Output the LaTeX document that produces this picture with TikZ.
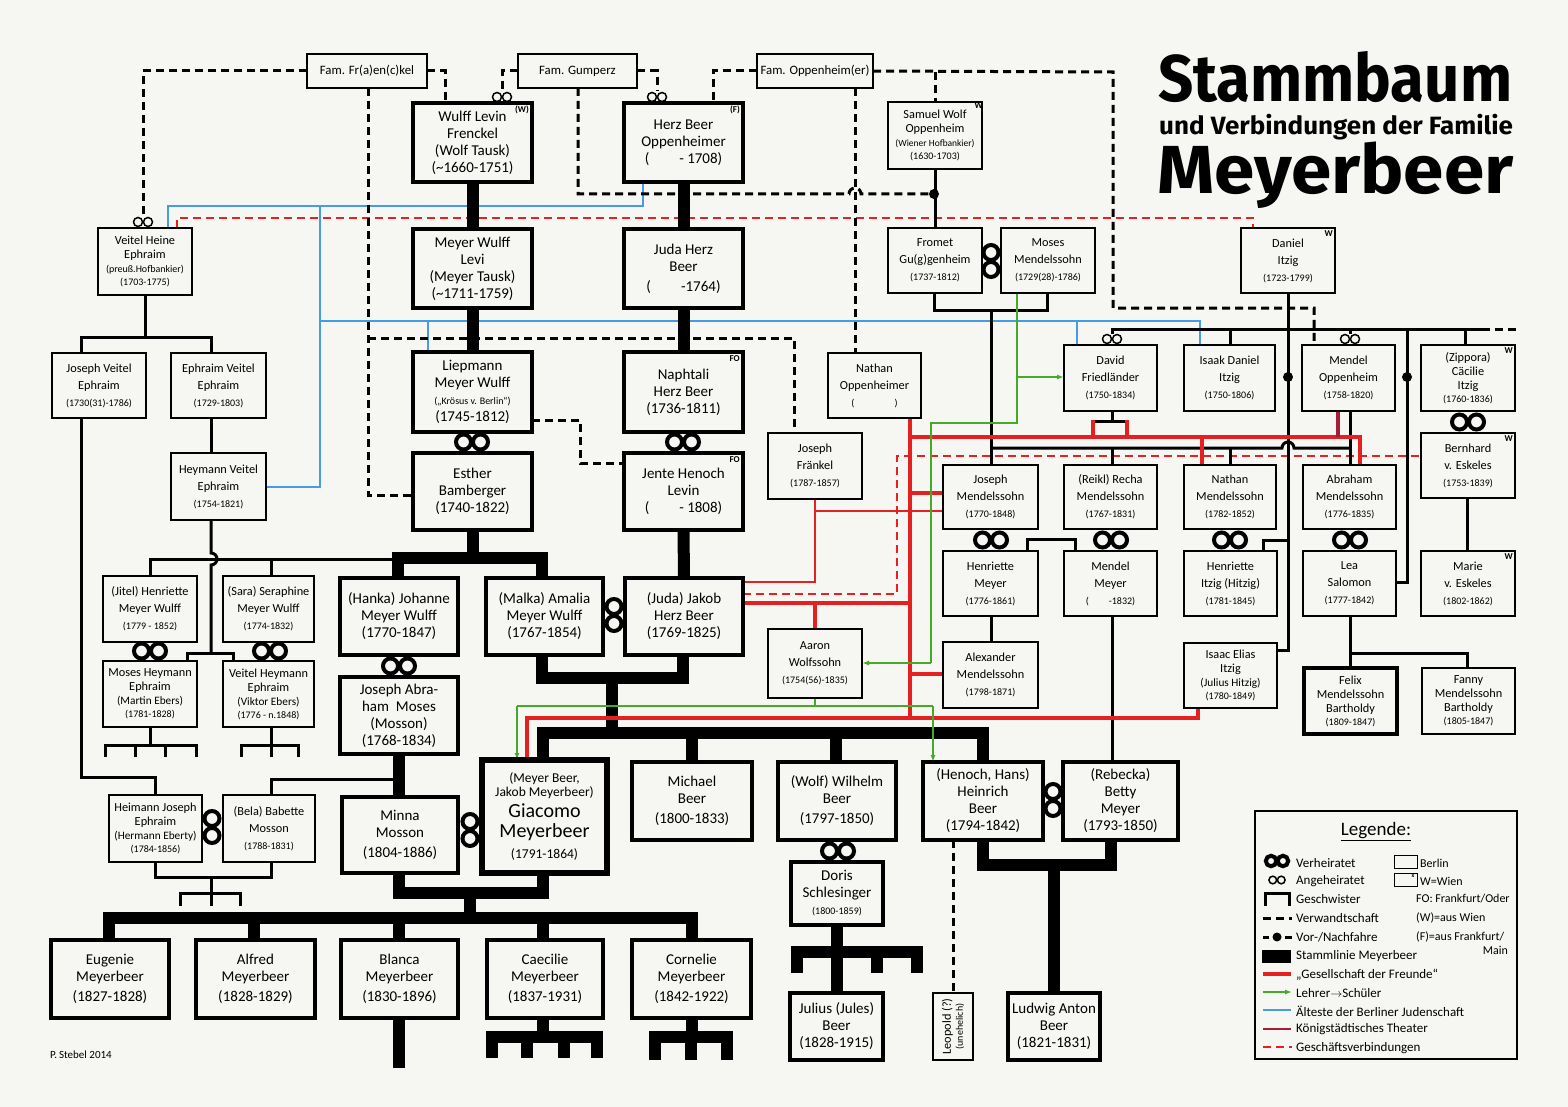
\documentclass[tikz,border=0pt]{standalone}
\usepackage{fontspec}
\usepackage{graphicx}
\setmainfont{Carlito}
\newfontfamily\titlefont{Fira Sans}
\usetikzlibrary{arrows.meta}
\pgfdeclarelayer{bg}
\pgfsetlayers{bg,main}
\definecolor{paper}{RGB}{246,246,243}
\definecolor{gfred}{RGB}{228,32,32}
\definecolor{lgreen}{RGB}{70,170,40}
\definecolor{ablue}{RGB}{70,155,230}
\definecolor{ktmaroon}{RGB}{165,30,55}
\newcommand\fA{\fontsize{15}{17}\selectfont}
\newcommand\fB{\fontsize{12.3}{17}\selectfont}
\newcommand\fC{\fontsize{10}{12}\selectfont}
\newcommand\fD{\fontsize{11.3}{14}\selectfont}
\newcommand\fG{\fontsize{20}{20}\selectfont}
\newcommand\fM{\fontsize{9}{9}\selectfont\bfseries}
\newcommand\mkbox[7]{\node[#2, minimum width={(#5-#3)*1pt}, minimum height={(#6-#4)*1pt}] (#1) at ({(#3+#5)/2},{(#4+#6)/2}) {#7};}
\tikzset{
 pbase/.style={draw, fill=paper, align=center, inner sep=1pt, outer sep=0pt},
 thick box/.style={pbase, line width=4pt, font=\fA},
 thin box/.style={pbase, line width=1.4pt, font=\fB},
 fam box/.style={pbase, line width=1.4pt, font=\fontsize{12.8}{15}\selectfont},
 giant box/.style={pbase, line width=6pt, font=\fontsize{13.5}{15}\selectfont},
 thick small/.style={pbase, line width=3.5pt, font=\fB},
 stamm/.style={line width=12pt, line join=miter},
 thinl/.style={line width=3pt, line join=miter},
 dashl/.style={line width=3pt, dash pattern=on 8pt off 5pt},
 gfl/.style={line width=4.5pt, gfred, line join=miter},
 gfthin/.style={line width=2pt, gfred},
 gdash/.style={line width=1.6pt, gfred, dash pattern=on 8pt off 5pt},
 bluel/.style={line width=2pt, ablue},
 greenl/.style={line width=1.6pt, lgreen},
 garrow/.style={greenl, -{Latex[length=7pt,width=5pt]}},
 cornermark/.style={font=\fM, inner sep=1pt, anchor=north east},
 legtext/.style={anchor=west, inner sep=0pt, font=\fontsize{13}{14}\selectfont},
 legright/.style={anchor=west, inner sep=0pt, font=\fontsize{12}{13}\selectfont},
 infh/.pic={\draw[line width=4pt] (-8.5,0) circle (7.5) (8.5,0) circle (7.5);},
 infv/.pic={\draw[line width=4pt] (0,-8.5) circle (7.5) (0,8.5) circle (7.5);},
 infs/.pic={\draw[line width=1.5pt] (-5,0) circle (4.5) (5,0) circle (4.5);},
}
\begin{document}
\begin{tikzpicture}[x=1pt,y=-1pt]
\useasboundingbox (0,0) rectangle (1568,1107);

% ---------- title ----------
\node[anchor=base west, inner sep=0, font=\titlefont\bfseries\fontsize{66}{66}\selectfont] (t1) at (1158,102) {\scalebox{0.935}[1]{Stammbaum}};
\node[anchor=base west, inner sep=0, font=\titlefont\bfseries\fontsize{25}{25}\selectfont] (t2) at (1159,135) {\scalebox{1.04}[1]{und Verbindungen der Familie}};
\node[anchor=base west, inner sep=0, font=\titlefont\bfseries\fontsize{68}{68}\selectfont] (t3) at (1157,194) {\scalebox{1.07}[1]{Meyerbeer}};

% ---------- families ----------
\mkbox{fam1}{fam box}{307}{54}{427}{88}{Fam. Fr(a)en(c)kel}
\mkbox{fam2}{fam box}{518}{54}{637}{88}{Fam. Gumperz}
\mkbox{fam3}{fam box}{757}{54}{873}{88}{Fam. Oppenheim(er)}

% ---------- Meyerbeer line ----------
\mkbox{wl}{thick box}{413}{103}{532}{182}{Wulff Levin\\Frenckel\\(Wolf Tausk)\\(\textasciitilde1660-1751)}
\mkbox{hb}{thick box}{624}{103}{743}{182}{Herz Beer\\Oppenheimer\\(\hspace{2em}- 1708)}
\mkbox{mwl}{thick box}{413}{229}{532}{308}{Meyer Wulff\\Levi\\(Meyer Tausk)\\(\textasciitilde1711-1759)}
\mkbox{jhb}{thick box}{624}{229}{743}{308}{Juda Herz\\Beer\\[3pt](\hspace{2em}-1764)}
\mkbox{lmw}{thick box}{413}{352}{532}{432}{Liepmann\\Meyer Wulff\\{\fC(„Krösus v. Berlin“)}\\(1745-1812)}
\mkbox{nhb}{thick box}{624}{352}{743}{432}{Naphtali\\Herz Beer\\(1736-1811)}
\mkbox{eb}{thick box}{413}{453}{532}{530}{Esther\\Bamberger\\(1740-1822)}
\mkbox{jhl}{thick box}{624}{453}{743}{530}{Jente Henoch\\Levin\\(\hspace{2em}- 1808)}
\mkbox{hj}{thick box}{340}{578}{458}{655}{(Hanka) Johanne\\Meyer Wulff\\(1770-1847)}
\mkbox{am}{thick box}{486}{578}{603}{655}{(Malka) Amalia\\Meyer Wulff\\(1767-1854)}
\mkbox{jj}{thick box}{625}{578}{743}{655}{(Juda) Jakob\\Herz Beer\\(1769-1825)}
\mkbox{jam}{thick box}{340}{677}{458}{754}{Joseph Abra-\\ham\ \ Moses\\(Mosson)\\(1768-1834)}
\mkbox{mm}{thick box}{342}{797}{458}{873}{Minna\\Mosson\\[3pt](1804-1886)}
\mkbox{gm}{giant box}{482}{760}{607}{873}{(Meyer Beer,\\[-1pt]Jakob Meyerbeer)\\[4pt]{\fG Giacomo}\\[5pt]{\fG Meyerbeer}\\[6pt](1791-1864)}
\mkbox{mb}{thick box}{632}{762}{752}{840}{Michael\\Beer\\[3pt](1800-1833)}
\mkbox{wb}{thick box}{778}{762}{896}{840}{(Wolf) Wilhelm\\Beer\\[3pt](1797-1850)}
\mkbox{ds}{thick box}{791}{862}{883}{925}{Doris\\Schlesinger\\{\fC(1800-1859)}}
\mkbox{jb}{thick box}{790}{993}{883}{1060}{Julius (Jules)\\Beer\\(1828-1915)}
\mkbox{hbr}{thick box}{923}{762}{1043}{840}{(Henoch, Hans)\\Heinrich\\Beer\\(1794-1842)}
\mkbox{bm}{thick box}{1063}{762}{1178}{840}{(Rebecka)\\Betty\\Meyer\\(1793-1850)}
\mkbox{lab}{thick box}{1008}{993}{1100}{1060}{Ludwig Anton\\Beer\\(1821-1831)}
\node[thin box, rotate=90, minimum width=67, minimum height=40] (leo) at (953,1026.5) {Leopold (?)\\[-5pt]{\fC(unehelich)}};
\mkbox{eu}{thick box}{51}{940}{169}{1018}{Eugenie\\Meyerbeer\\[3pt](1827-1828)}
\mkbox{al}{thick box}{196}{940}{315}{1018}{Alfred\\Meyerbeer\\[3pt](1828-1829)}
\mkbox{bl}{thick box}{341}{940}{458}{1018}{Blanca\\Meyerbeer\\[3pt](1830-1896)}
\mkbox{ca}{thick box}{487}{940}{603}{1018}{Caecilie\\Meyerbeer\\[3pt](1837-1931)}
\mkbox{co}{thick box}{632}{940}{751}{1018}{Cornelie\\Meyerbeer\\[3pt](1842-1922)}

% ---------- Ephraim family ----------
\mkbox{vhe}{thin box}{98}{228}{192}{295}{Veitel Heine\\[-3pt]Ephraim\\[-3pt]{\fC(preuß.Hofbankier)}\\[-4pt]{\fC(1703-1775)}}
\mkbox{jve}{thin box}{52}{353}{146}{418}{Joseph Veitel\\Ephraim\\{\fC(1730(31)-1786)}}
\mkbox{eve}{thin box}{171}{353}{266}{418}{Ephraim Veitel\\Ephraim\\{\fC(1729-1803)}}
\mkbox{hve}{thin box}{171}{453}{266}{520}{Heymann Veitel\\Ephraim\\{\fC(1754-1821)}}
\mkbox{jh}{thin box}{103}{576}{197}{642}{(Jitel) Henriette\\Meyer Wulff\\{\fC(1779 - 1852)}}
\mkbox{ss}{thin box}{223}{576}{314}{642}{(Sara) Seraphine\\Meyer Wulff\\{\fC(1774-1832)}}
\mkbox{mhe}{thin box}{103}{661}{197}{727}{Moses Heymann\\[-3pt]Ephraim\\[-3pt]{\fD(Martin Ebers)}\\[-4pt]{\fC(1781-1828)}}
\mkbox{vhy}{thin box}{223}{661}{314}{727}{Veitel Heymann\\[-3pt]Ephraim\\[-3pt]{\fD(Viktor Ebers)}\\[-4pt]{\fC(1776 - n.1848)}}
\mkbox{hje}{thin box}{109}{795}{202}{862}{Heimann Joseph\\[-3pt]Ephraim\\[-3pt]{\fD(Hermann Eberty)}\\[-4pt]{\fC(1784-1856)}}
\mkbox{bbm}{thin box}{223}{795}{315}{862}{(Bela) Babette\\Mosson\\{\fC(1788-1831)}}

% ---------- Mendelssohn / Itzig ----------
\mkbox{swo}{thin box}{888}{102}{982}{169}{Samuel Wolf\\[-3pt]Oppenheim\\[-3pt]{\fontsize{9.5}{12}\selectfont(Wiener Hofbankier)}\\[-4pt]{\fC(1630-1703)}}
\mkbox{fg}{thin box}{888}{228}{982}{293}{Fromet\\Gu(g)genheim\\{\fC(1737-1812)}}
\mkbox{mom}{thin box}{1001}{228}{1095}{293}{Moses\\Mendelssohn\\{\fC(1729(28)-1786)}}
\mkbox{di}{thin box}{1241}{228}{1335}{293}{Daniel\\Itzig\\{\fC(1723-1799)}}
\mkbox{no}{thin box}{828}{353}{921}{418}{Nathan\\Oppenheimer\\{\fC(\hspace{4em})}}
\mkbox{df}{thin box}{1064}{345}{1157}{411}{David\\Friedländer\\{\fC(1750-1834)}}
\mkbox{idi}{thin box}{1184}{345}{1275}{411}{Isaak Daniel\\Itzig\\{\fC(1750-1806)}}
\mkbox{mo}{thin box}{1302}{345}{1395}{411}{Mendel\\Oppenheim\\{\fC(1758-1820)}}
\mkbox{ci}{thin box}{1421}{345}{1515}{411}{(Zippora)\\[-3pt]Cäcilie\\[-3pt]Itzig\\[-4pt]{\fC(1760-1836)}}
\mkbox{jf}{thin box}{768}{433}{862}{499}{Joseph\\Fränkel\\{\fC(1787-1857)}}
\mkbox{jm}{thin box}{943}{465}{1038}{529}{Joseph\\Mendelssohn\\{\fC(1770-1848)}}
\mkbox{rm}{thin box}{1064}{465}{1157}{529}{(Reikl) Recha\\Mendelssohn\\{\fC(1767-1831)}}
\mkbox{nm}{thin box}{1184}{465}{1276}{529}{Nathan\\Mendelssohn\\{\fC(1782-1852)}}
\mkbox{abm}{thin box}{1303}{465}{1396}{529}{Abraham\\Mendelssohn\\{\fC(1776-1835)}}
\mkbox{be}{thin box}{1421}{433}{1515}{498}{Bernhard\\v. Eskeles\\{\fC(1753-1839)}}
\mkbox{hm}{thin box}{943}{551}{1038}{616}{Henriette\\Meyer\\{\fC(1776-1861)}}
\mkbox{mem}{thin box}{1064}{551}{1157}{616}{Mendel\\Meyer\\{\fC(\hspace{2em}-1832)}}
\mkbox{hi}{thin box}{1184}{551}{1277}{616}{Henriette\\Itzig (Hitzig)\\{\fC(1781-1845)}}
\mkbox{ls}{thin box}{1303}{551}{1396}{616}{Lea\\Salomon\\{\fC(1777-1842)}}
\mkbox{me}{thin box}{1421}{551}{1515}{616}{Marie\\v. Eskeles\\{\fC(1802-1862)}}
\mkbox{aw}{thin box}{768}{629}{862}{698}{Aaron\\Wolfssohn\\{\fC(1754(56)-1835)}}
\mkbox{ame}{thin box}{943}{642}{1038}{708}{Alexander\\Mendelssohn\\{\fC(1798-1871)}}
\mkbox{iei}{thin box}{1184}{643}{1277}{708}{Isaac Elias\\[-3pt]Itzig\\[-3pt]{\fD(Julius Hitzig)}\\[-4pt]{\fC(1780-1849)}}
\mkbox{fe}{thick small}{1304}{668}{1397}{734}{Felix\\[-3pt]Mendelssohn\\[-3pt]Bartholdy\\[-4pt]{\fC(1809-1847)}}
\mkbox{fa}{thin box}{1422}{668}{1515}{734}{Fanny\\[-3pt]Mendelssohn\\[-3pt]Bartholdy\\[-4pt]{\fC(1805-1847)}}

% ---------- corner marks ----------
\node[cornermark] (mk1) at (530,105) {(W)};
\node[cornermark] (mk2) at (741,105) {(F)};
\node[cornermark] (mk3) at (741,354) {FO};
\node[cornermark] (mk4) at (741,455) {FO};
\node[cornermark] (mk5) at (984,101) {W};
\node[cornermark] (mk6) at (1334,229) {W};
\node[cornermark] (mk7) at (1514,346) {W};
\node[cornermark] (mk8) at (1514,434) {W};
\node[cornermark] (mk9) at (1514,552) {W};

% ---------- marriage symbols ----------
\pic at (472,442) {infh};
\pic at (683,442) {infh};
\pic at (399,666) {infh};
\pic at (838,851) {infh};
\pic at (150,651) {infh};
\pic at (270,651) {infh};
\pic at (991,540) {infh};
\pic at (1111,540) {infh};
\pic at (1230,540) {infh};
\pic at (1350,540) {infh};
\pic at (1468,422) {infh};
\pic at (614,615) {infv};
\pic at (470,830) {infv};
\pic at (991,261) {infv};
\pic at (212,827) {infv};
\pic at (1053,800) {infv};
\pic at (143,222) {infs};
\pic at (502,97) {infs};
\pic at (657,97) {infs};
\pic at (1112,339) {infs};
\pic at (1350,339) {infs};

% ---------- legend ----------
\node[draw, line width=1.3pt, minimum width=262, minimum height=248, inner sep=0] (leg) at (1386,935) {};
\node[font=\fontsize{19}{20}\selectfont, inner sep=0] (legt) at (1376,832) {\underline{Legende:}};
\pic[scale=0.7] at (1277,861) {infh};
\pic[scale=0.85] at (1277,880) {infs};
\draw[line width=3pt, line join=miter] (1265,906) -- (1265,893) -- (1289,893) -- (1289,906);
\draw[dashl] (1263,918) -- (1292,918);
\draw[line width=3pt] (1263,937) -- (1269,937) (1285,937) -- (1292,937);
\fill (1277,937) circle (4.5);
\fill (1262,950) rectangle (1291,963);
\draw[gfl] (1263,974) -- (1291,974);
\draw[garrow] (1263,992) -- (1292,992);
\draw[bluel] (1263,1010) -- (1291,1010);
\draw[line width=2pt, ktmaroon] (1263,1029) -- (1291,1029);
\draw[gdash] (1263,1047) -- (1292,1047);
\node[legtext] (l1) at (1296,863) {Verheiratet};
\node[legtext] (l2) at (1296,881) {Angeheiratet};
\node[legtext] (l3) at (1296,899) {Geschwister};
\node[legtext] (l4) at (1296,918) {Verwandtschaft};
\node[legtext] (l5) at (1296,937) {Vor-/Nachfahre};
\node[legtext] (l6) at (1296,956) {Stammlinie Meyerbeer};
\node[legtext] (l7) at (1296,975) {„Gesellschaft der Freunde“};
\node[legtext] (l8) at (1296,993) {Lehrer$\rightarrow$Schüler};
\node[legtext] (l9) at (1296,1011) {Älteste der Berliner Judenschaft};
\node[legtext] (l10) at (1296,1029) {Königstädtisches Theater};
\node[legtext] (l11) at (1296,1048) {Geschäftsverbindungen};
\node[draw, line width=1.3pt, minimum width=23, minimum height=13, inner sep=0] (lb1) at (1406,862) {};
\node[draw, line width=1.3pt, minimum width=23, minimum height=13, inner sep=0] (lb2) at (1406,880) {};
\node[font=\fontsize{6}{6}\selectfont\bfseries, inner sep=0] (lbx) at (1413,876) {x};
\node[legright] (r1) at (1420,863) {Berlin};
\node[legright] (r2) at (1420,881) {W=Wien};
\node[legright] (r3) at (1416,899) {FO: Frankfurt/Oder};
\node[legright] (r4) at (1416,918) {(W)=aus Wien};
\node[legright] (r5) at (1416,937) {(F)=aus Frankfurt/};
\node[legright, anchor=east] (r6) at (1508,950) {Main};

\node[anchor=west, inner sep=0, font=\fontsize{11}{12}\selectfont] (sig) at (50,1055) {P.\,Stebel 2014};

% ================= connectors (behind boxes) =================
\begin{pgfonlayer}{bg}
\fill[paper] (0,0) rectangle (1568,1107);

% -- blue: Aelteste
\draw[bluel] (168,228) -- (168,206) -- (643,206) -- (hb.south -| 643,0);
\draw[bluel] (320,206) -- (320,487) -- (hve.east |- 0,487);
\draw[bluel] (320,321) -- (1200,321) -- (idi.north -| 1200,0);
\draw[bluel] (428,321) -- (lmw.north -| 428,0);
\draw[bluel] (1077,321) -- (df.north -| 1077,0);

% -- red dashed: Geschaeftsverbindungen
\draw[gdash] (177,228) -- (177,218) -- (1253,218) -- (1253,228);
\draw[gdash] (jj.east |- 0,594) -- (897,594) -- (897,456) -- (be.west |- 0,456);

% -- dashed: Verwandtschaft
\draw[dashl] (fam1.west) -| (143,217);
\draw[dashl] (fam1.east) -| (445,103);
\draw[dashl] (368,88) -- (368,495) -- (eb.west |- 0,495);
\draw[dashl] (368,338) -- (794,338) -- (794,433);
\draw[dashl] (fam2.west) -| (502,91);
\draw[dashl] (fam2.east) -| (657,91);
\draw[dashl] (578,88) -- (578,194) -- (849,194) arc (180:360:6) -- (934,194);
\draw[dashl] (fam3.west) -| (713,103);
\draw[dashl] (fam3.east) -- (1113,72) -- (1113,308) -- (1314,308) -- (1314,345);
\draw[dashl] (935,72) -- (swo.north);
\draw[dashl] (855,88) -- (855,353);
\draw[dashl] (lmw.east |- 0,420) -- (580,420) -- (580,463) -- (jhl.west |- 0,463);
\draw[dashl] (953,840) -- (953,993);
\draw[dashl] (1482,329) -- (1516,329);

% -- thick: Stammlinie
\draw[stamm] (wl.south) -- (mwl.north);
\draw[stamm] (mwl.south) -- (lmw.north);
\draw[stamm] (hb.south) -- (jhb.north);
\draw[stamm] (jhb.south) -- (nhb.north);
\draw[stamm] (jhl.south) -- (jj.north);
\draw[stamm] (eb.south) -- (472.5,558);
\draw[stamm] (398,580) -- (398,558) -- (542,558) -- (542,580);
\draw[stamm] (542,653) -- (542,678) -- (683,678) -- (683,653);
\draw[stamm] (612,678) -- (612,733);
\draw[stamm] (543,762) -- (543,733) -- (983,733) -- (983,764);
\draw[stamm] (692,733) -- (692,764);
\draw[stamm] (836,733) -- (836,764);
\draw[stamm] (jam.south -| 399,0) -- (mm.north -| 399,0);
\draw[stamm] (399,871) -- (399,893) -- (543,893) -- (543,871);
\draw[stamm] (470,893) -- (470,918);
\draw[stamm] (109,942) -- (109,918) -- (692,918) -- (692,942);
\draw[stamm] (254,918) -- (254,942);
\draw[stamm] (399,918) -- (399,942);
\draw[stamm] (543,918) -- (543,942);
\draw[stamm] (399,1016) -- (399,1068);
\draw[stamm] (543,1016) -- (543,1037);
\draw[stamm] (492,1058) -- (492,1037) -- (597,1037) -- (597,1058);
\draw[stamm] (527,1037) -- (527,1058);
\draw[stamm] (564,1037) -- (564,1058);
\draw[stamm] (692,1016) -- (692,1037);
\draw[stamm] (655,1060) -- (655,1037) -- (727,1037) -- (727,1060);
\draw[stamm] (691,1037) -- (691,1060);
\draw[stamm] (837,923) -- (837,995);
\draw[stamm] (797,973) -- (797,952) -- (917,952) -- (917,973);
\draw[stamm] (877,952) -- (877,973);
\draw[stamm] (983,838) -- (983,865) -- (1111,865) -- (1111,838);
\draw[stamm] (1054,865) -- (1054,995);

% -- thin black
\draw[thinl] (vhe.south) -- (145,337);
\draw[thinl] (81,353) -- (81,337) -- (211,337) -- (211,353);
\draw[thinl] (211,418) -- (211,453);
\draw[thinl] (211,520) -- (211,553) arc (270:450:6) -- (211,653);
\draw[thinl] (187,661) -- (187,653) -- (233,653) -- (233,661);
\draw[thinl] (150,576) -- (150,559) -- (400,559);
\draw[thinl] (271,559) -- (271,576);
\draw[thinl] (150,727) -- (150,745);
\draw[thinl] (105,757) -- (105,745) -- (196,745) -- (196,757);
\draw[thinl] (135,745) -- (135,757);
\draw[thinl] (165,745) -- (165,757);
\draw[thinl] (271,727) -- (271,757);
\draw[thinl] (241,757) -- (241,745) -- (298,745) -- (298,757);
\draw[thinl] (81,418) -- (81,777) -- (155,777) -- (hje.north -| 155,0);
\draw[thinl] (bbm.north -| 271,0) -- (271,779) -- (399,779);
\draw[thinl] (155,862) -- (155,877) -- (271,877) -- (271,862);
\draw[thinl] (211,877) -- (211,906);
\draw[thinl] (180,906) -- (180,893) -- (240,893) -- (240,906);
\draw[thinl] (swo.south) -- (fg.north);
\fill (934,194) circle (5);
\draw[thinl] (934,293) -- (934,310) -- (1047,310) -- (1047,293);
\draw[thinl] (991,310) -- (jm.north -| 991,0);
\draw[thinl] (991,448) -- (1282,448) arc (180:360:6) -- (1350,448);
\draw[thinl] (1112,448) -- (rm.north -| 1112,0);
\draw[thinl] (1230,448) -- (nm.north -| 1230,0);
\draw[thinl] (1350,411) -- (abm.north -| 1350,0);
\draw[thinl] (1112,411) -- (1112,420);
\draw[thinl] (1093,421) -- (1127,421);
\draw[thinl] (1027,551) -- (1027,539) -- (1075,539) -- (1075,551);
\draw[thinl] (991,616) -- (ame.north -| 991,0);
\draw[thinl] (1112,616) -- (bm.north -| 1112,0);
\draw[thinl] (di.south -| 1288,0) -- (1288,650) -- (iei.east |- 0,650);
\fill (1288,377) circle (5);
\draw[thinl] (1288,540) -- (1263,540) -- (hi.north -| 1263,0);
\draw[thinl] (1112,334) -- (1112,329) -- (1482,329);
\draw[thinl] (1230,329) -- (idi.north -| 1230,0);
\draw[thinl] (1350,329) -- (1350,334);
\draw[thinl] (1465,329) -- (ci.north -| 1465,0);
\draw[thinl] (1407,329) -- (1407,582) -- (ls.east |- 0,582);
\fill (1407,377) circle (5);
\draw[thinl] (be.south -| 1467,0) -- (me.north -| 1467,0);
\draw[thinl] (1350,616) -- (fe.north -| 1350,0);
\draw[thinl] (1350,653) -- (1467,653) -- (fa.north -| 1467,0);

% -- red: Gesellschaft der Freunde
\draw[gfl] (910,418) -- (910,718);
\draw[gfl] (910,437) -- (1360,437) -- (abm.north -| 1360,0);
\draw[gfl] (1202,437) -- (nm.north -| 1202,0);
\draw[gfl] (1093,420) -- (1093,437);
\draw[gfl] (1127,420) -- (1127,437);
\draw[gfl] (910,493) -- (jm.west |- 0,493);
\draw[gfl] (910,674) -- (ame.west |- 0,674);
\draw[gfl] (jj.east |- 0,603) -- (910,603);
\draw[gfl] (815,603) -- (aw.north -| 815,0);
\draw[gfl] (gm.north -| 527,0) -- (527,718) -- (1198,718) -- (iei.south -| 1198,0);
\draw[gfthin] (jm.west |- 0,511) -- (815,511);
\draw[gfthin] (jf.south -| 815,0) -- (815,582) -- (jj.east |- 0,582);
\draw[line width=4pt, ktmaroon] (mo.south -| 1338,0) -- (1338,437);

% -- green: Lehrer -> Schueler
\draw[greenl] (mom.south -| 1017,0) -- (1017,423) -- (931,423) -- (931,663);
\draw[garrow] (931,663) -- (aw.east |- 0,663);
\draw[garrow] (1017,377) -- (df.west |- 0,377);
\draw[greenl] (aw.south -| 815,0) -- (815,706);
\draw[greenl] (517,706) -- (933,706);
\draw[garrow] (517,706) -- (gm.north -| 517,0);
\draw[garrow] (933,706) -- (hbr.north -| 933,0);
\end{pgfonlayer}
\end{tikzpicture}
\end{document}
